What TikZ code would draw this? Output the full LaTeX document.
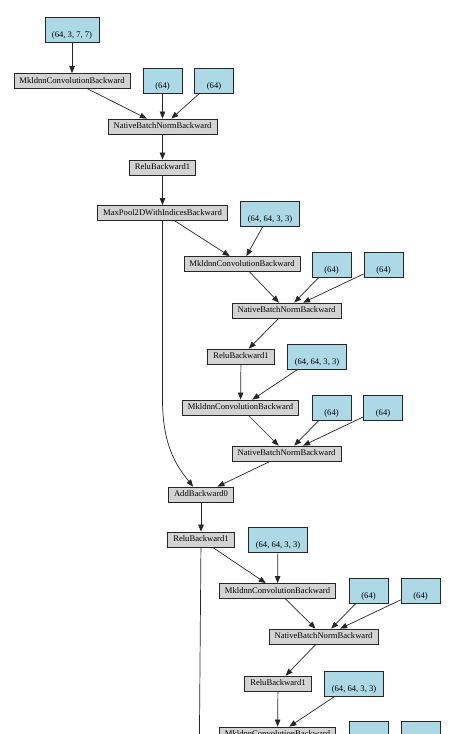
\documentclass[tikz,border=0pt]{standalone}
\usepackage{fontspec}
\setmainfont{Liberation Serif}
\usetikzlibrary{arrows.meta}
\usepackage{xcolor}
\definecolor{fngray}{HTML}{D3D3D3}
\definecolor{parblue}{HTML}{ADD8E6}

\begin{document}
\begin{tikzpicture}[x=1pt,y=-1pt,
  fnbox/.style={draw=black!85, line width=0.8pt, fill=fngray,
    font=\fontsize{8.6}{10}\selectfont, inner xsep=5.5pt, inner ysep=3pt,
    text height=6.2pt, text depth=1.8pt, minimum height=15pt},
  parbox/.style={draw=black!85, line width=0.8pt, fill=parblue,
    font=\fontsize{8.6}{10}\selectfont, inner xsep=7pt, inner ysep=3.5pt,
    text height=17pt, text depth=1pt, minimum width=39pt},
  flow/.style={draw=black!85, line width=0.7pt, -{Triangle[length=7pt,width=5.5pt]}}]
\useasboundingbox (0,0) rectangle (474,734);
\fill[white] (0,0) rectangle (474,734);
\clip (0,0) rectangle (474,734);
% stem: conv, bn, relu, pool
\node[parbox] (w1) at (72,29.5) {(64, 3, 7, 7)};
\node[fnbox] (conv1) at (72,81) {MkldnnConvolutionBackward};
\node[parbox] (g1) at (162.5,80.5) {(64)};
\node[parbox] (b1) at (214,80.5) {(64)};
\node[fnbox] (bn1) at (162.5,126.5) {NativeBatchNormBackward};
\node[fnbox] (relu1) at (162.5,167.5) {ReluBackward1};
\node[fnbox] (pool) at (162.5,213) {MaxPool2DWithIndicesBackward};
\draw[flow] (w1) -- (conv1);
\draw[flow] (conv1) -- (bn1);
\draw[flow] (g1) -- (bn1);
\draw[flow] (b1) -- (bn1);
\draw[flow] (bn1) -- (relu1);
\draw[flow] (relu1) -- (pool);
% block 1
\node[parbox] (w2) at (270,213.5) {(64, 64, 3, 3)};
\node[fnbox] (conv2) at (242,264) {MkldnnConvolutionBackward};
\node[parbox] (g2) at (331.5,264.5) {(64)};
\node[parbox] (b2) at (383.5,264.5) {(64)};
\node[fnbox] (bn2) at (286.5,310.5) {NativeBatchNormBackward};
\node[fnbox] (relu2) at (241,356.5) {ReluBackward1};
\node[parbox] (w3) at (317,356.5) {(64, 64, 3, 3)};
\node[fnbox] (conv3) at (240.5,407.5) {MkldnnConvolutionBackward};
\node[parbox] (g3) at (331.5,407.5) {(64)};
\node[parbox] (b3) at (383,407.5) {(64)};
\node[fnbox] (bn3) at (286.5,453.5) {NativeBatchNormBackward};
\node[fnbox] (add) at (201,494.5) {AddBackward0};
\draw[flow] (pool) -- (conv2);
\draw[flow] (w2) -- (conv2);
\draw[flow] (conv2) -- (bn2);
\draw[flow] (g2) -- (bn2);
\draw[flow] (b2) -- (bn2);
\draw[flow] (bn2) -- (relu2);
\draw[flow] (relu2) -- (conv3);
\draw[flow] (w3) -- (conv3);
\draw[flow] (conv3) -- (bn3);
\draw[flow] (g3) -- (bn3);
\draw[flow] (b3) -- (bn3);
\draw[flow] (bn3) -- (add);
\draw[flow] (pool.south) -- (162.5,400) .. controls (162.5,450) and (180,470) .. (add.135);
% block 2
\node[fnbox] (relu3) at (201,539.5) {ReluBackward1};
\node[parbox] (w4) at (278,539.5) {(64, 64, 3, 3)};
\node[fnbox] (conv4) at (277.5,591) {MkldnnConvolutionBackward};
\node[parbox] (g4) at (368.5,590.5) {(64)};
\node[parbox] (b4) at (420.5,590.5) {(64)};
\node[fnbox] (bn4) at (323.5,636.5) {NativeBatchNormBackward};
\node[fnbox] (relu4) at (278,683.5) {ReluBackward1};
\node[parbox] (w5) at (354,683.5) {(64, 64, 3, 3)};
\node[fnbox] (conv5) at (277.5,734.5) {MkldnnConvolutionBackward};
\node[parbox] (g5) at (368.5,733.5) {(64)};
\node[parbox] (b5) at (420.5,733.5) {(64)};
\coordinate (add2) at (199,790);
\draw[flow] (add) -- (relu3);
\draw[flow] (relu3) -- (conv4);
\draw[flow] (w4) -- (conv4);
\draw[flow] (conv4) -- (bn4);
\draw[flow] (g4) -- (bn4);
\draw[flow] (b4) -- (bn4);
\draw[flow] (bn4) -- (relu4);
\draw[flow] (relu4) -- (conv5);
\draw[flow] (w5) -- (conv5);
\draw[flow] (relu3) -- (add2);
\end{tikzpicture}
\end{document}
